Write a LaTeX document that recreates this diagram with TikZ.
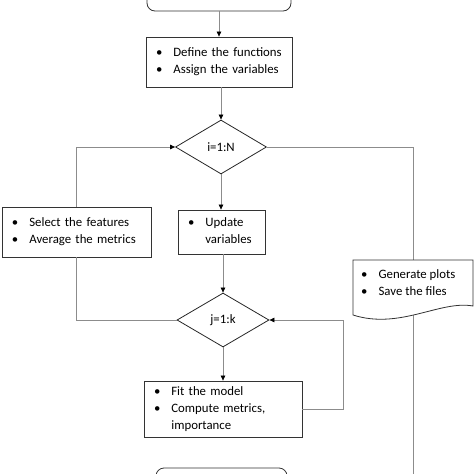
\documentclass[tikz,border=0pt]{standalone}
\usepackage{fontspec}
\setmainfont{Carlito}
\usetikzlibrary{arrows.meta,%
                shapes.geometric,%
                positioning}

\newcommand{\blist}[1]{\begin{tabular}{@{}l@{\hspace{11pt}}l@{}}#1\end{tabular}}

\begin{document}
\begin{tikzpicture}[x=1pt,y=-1pt,
    every node/.style={font=\fontsize{12.8}{17}\selectfont},
    box/.style={draw=black!80,line width=0.8pt,rectangle,inner xsep=10pt,inner ysep=0pt,align=left},
    term/.style={draw=black!80,line width=0.8pt,rectangle,rounded corners=8pt,inner sep=0pt},
    test/.style={draw=black!85,line width=0.8pt,diamond,inner sep=0pt},
    link/.style={draw=black!45,line width=0.7pt},
    arr/.style={link,-{Triangle[length=5pt,width=4.5pt,color=black]}}]

      \clip (0,0) rectangle (474,474);

      % terminals (cut by the page edge)
      \node[term,minimum width=144pt,minimum height=36pt] (start) at (219,-7) {};
      \node[term,minimum width=131pt,minimum height=36pt] (stop) at (221.5,486) {};

      \node[box,text width=126pt,minimum height=50pt] (def) at (219,62)
        {\blist{\textbullet & Define the functions\\ \textbullet & Assign the variables}};

      \node[test,minimum width=91pt,minimum height=54pt] (loopi) at (221,147) {i=1:N};

      \node[box,text width=129pt,minimum height=50pt] (sel) at (76.5,232)
        {\blist{\textbullet & Select the features\\ \textbullet & Average the metrics}};
      \node[box,text width=67pt,minimum height=44pt] (upd) at (221.5,232)
        {\blist{\textbullet & Update\\ & variables}};

      \node[test,minimum width=92pt,minimum height=54pt] (loopj) at (223,320) {j=1:k};

      \node[box,text width=138pt,minimum height=56pt] (fit) at (223,409)
        {\blist{\textbullet & Fit the model\\ \textbullet & Compute metrics,\\ & importance}};

      \coordinate (rj) at (343,0);
      \coordinate (ri) at (413,480);

      % connectors
      \draw[arr] (start.south -| def.north) -- (def.north);
      \draw[arr] (def.south -| loopi.north) -- (loopi.north);
      \draw[arr] (loopi.south) -- (loopi.south |- upd.north);
      \draw[arr] (loopj.north |- upd.south) -- (loopj.north);
      \draw[arr] (loopj.south) -- (loopj.south |- fit.north);
      \draw[arr] (sel.north) |- (loopi.west);
      \draw[link] (loopj.west) -| (sel.south);
      \draw[arr] (fit.east) -| (rj |- loopj.east) -- (loopj.east);
      \draw[link] (loopi.east) -| (ri);

      % output document
      \filldraw[fill=white,draw=black!80,line width=0.8pt] (353,260) -- (473,260) -- (473,306)
        .. controls (440,300) and (400,330) .. (353,315) -- cycle;
      \node[anchor=west,inner sep=0pt] (out) at (361,283.5)
        {\blist{\textbullet & Generate plots\\ \textbullet & Save the files}};
    \end{tikzpicture}
\end{document}
